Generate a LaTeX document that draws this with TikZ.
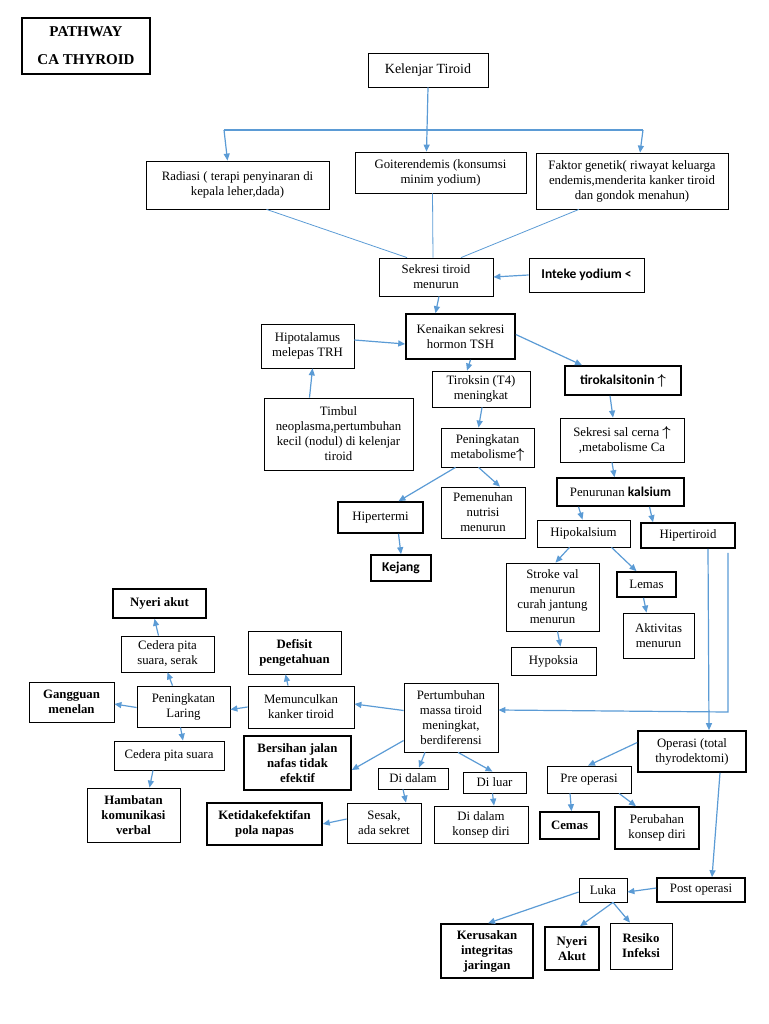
\documentclass[tikz,border=0pt]{standalone}
\usepackage{fontspec}
\setmainfont{Liberation Serif}
\newfontfamily\carlito{Carlito}
\usetikzlibrary{arrows.meta}
\definecolor{lineblue}{RGB}{91,155,213}
\newcommand\calb[1]{{\carlito\bfseries\fontsize{13.5}{15}\selectfont #1}}
\newcommand\uarr{{\fontsize{14.4}{15}\selectfont\boldmath$\uparrow$}}

\begin{document}
\begin{tikzpicture}[x=1pt,y=-1pt,
      box/.style={draw,line width=0.8pt,align=center,inner sep=1pt,font=\fontsize{12.8}{15}\selectfont},
      bbox/.style={box,line width=1.6pt},
      boldtext/.style={font=\fontsize{12.8}{15}\selectfont\bfseries},
      wh/.style 2 args={minimum width=#1pt,minimum height=#2pt},
      arr/.style={-{Triangle[length=7pt,width=6pt]},line width=1.2pt,draw=lineblue},
      link/.style={line width=0.8pt,draw=lineblue}]
      \useasboundingbox (0,0) rectangle (768,1024);
      \node[bbox,wh={128}{56},font=\fontsize{15}{28}\selectfont\bfseries] (title) at (86,46) {PATHWAY\\CA THYROID};
      \node[box,wh={120}{34},font=\fontsize{14}{16}\selectfont] (kel) at (428,70) {Kelenjar Tiroid};
      \node[box,wh={183}{48}] (rad) at (237.5,185) {Radiasi ( terapi penyinaran di\\kepala leher,dada)};
      \node[box,wh={171}{41}] (goi) at (440.5,172.5) {Goiterendemis (konsumsi\\minim yodium)};
      \node[box,wh={192}{56}] (fak) at (632,181) {Faktor genetik( riwayat keluarga\\endemis,menderita kanker tiroid\\dan gondok menahun)};
      \node[box,wh={114}{38}] (sek) at (436,277) {Sekresi tiroid\\menurun};
      \node[box,wh={115}{34}] (yod) at (586.5,275) {\calb{Inteke yodium <}};
      \node[bbox,wh={109}{45}] (tsh) at (460.5,336.5) {Kenaikan sekresi\\hormon TSH};
      \node[box,wh={93}{44}] (hip) at (307.5,346) {Hipotalamus\\melepas TRH};
      \node[box,wh={149}{72}] (tim) at (338.5,434) {Timbul\\neoplasma,pertumbuhan\\kecil (nodul) di kelenjar\\tiroid};
      \node[box,wh={98}{36}] (t4) at (481,389) {Tiroksin (T4)\\meningkat};
      \node[bbox,wh={116}{29}] (kal) at (623,380.5) {\calb{tirokalsitonin} \uarr};
      \node[box,wh={93}{39}] (met) at (487.5,447.5) {Peningkatan\\metabolisme\uarr};
      \node[box,wh={124}{44}] (sal) at (622,440) {Sekresi sal cerna \uarr\\,metabolisme Ca};
      \node[bbox,wh={127}{28}] (pen) at (620.5,492) {Penurunan \calb{kalsium}};
      \node[bbox,wh={85}{31}] (hpm) at (380.5,517.5) {Hipertermi};
      \node[box,wh={84}{51}] (nut) at (483,512.5) {Pemenuhan\\nutrisi\\menurun};
      \node[box,wh={93}{27}] (hka) at (583.5,533.5) {Hipokalsium};
      \node[bbox,wh={94}{25}] (hti) at (688,535.5) {Hipertiroid};
      \node[bbox,wh={60}{26}] (kej) at (401,568) {\calb{Kejang}};
      \node[box,wh={93}{68}] (str) at (552.5,597) {Stroke val\\menurun\\curah jantung\\menurun};
      \node[bbox,wh={59}{25}] (lem) at (646.5,584.5) {Lemas};
      \node[box,wh={71}{45}] (akt) at (658.5,635.5) {Aktivitas\\menurun};
      \node[box,wh={85}{28}] (hyp) at (553.5,661) {Hypoksia};
      \node[bbox,wh={93}{29},boldtext] (nye) at (159.5,603.5) {Nyeri akut};
      \node[box,wh={93}{36}] (ced1) at (167.5,654) {Cedera pita\\suara, serak};
      \node[box,wh={93}{43},boldtext] (def) at (294.5,652.5) {Defisit\\pengetahuan};
      \node[box,wh={85}{40},boldtext] (gan) at (71.5,702) {Gangguan\\menelan};
      \node[box,wh={93}{41}] (lar) at (183.5,706.5) {Peningkatan\\Laring};
      \node[box,wh={106}{42}] (mun) at (301,707) {Memunculkan\\kanker tiroid};
      \node[box,wh={94}{69}] (per) at (451,717.5) {Pertumbuhan\\massa tiroid\\meningkat,\\berdiferensi};
      \node[bbox,wh={107}{54},boldtext] (ber) at (297.5,763) {Bersihan jalan\\nafas tidak\\efektif};
      \node[box,wh={110}{29}] (ced2) at (169,755.5) {Cedera pita suara};
      \node[box,wh={93}{54},boldtext] (ham) at (133.5,815) {Hambatan\\komunikasi\\verbal};
      \node[bbox,wh={115}{42},boldtext] (ket) at (264.5,824) {Ketidakefektifan\\pola napas};
      \node[box,wh={70}{21}] (dda) at (413,778.5) {Di dalam};
      \node[box,wh={63}{21}] (dlu) at (494.5,782.5) {Di luar};
      \node[box,wh={74}{40}] (ses) at (384,823) {Sesak,\\ada sekret};
      \node[box,wh={94}{37}] (kdi) at (481,824.5) {Di dalam\\konsep diri};
      \node[bbox,wh={108}{41}] (ope) at (692,751.5) {Operasi (total\\thyrodektomi)};
      \node[box,wh={84}{27}] (pre) at (589,779.5) {Pre operasi};
      \node[bbox,wh={59}{27},boldtext] (cem) at (569.5,825.5) {Cemas};
      \node[bbox,wh={84}{42}] (pkd) at (657,828) {Perubahan\\konsep diri};
      \node[bbox,wh={88}{24}] (pos) at (701,890) {Post operasi};
      \node[box,wh={48}{24}] (luk) at (603,890) {Luka};
      \node[bbox,wh={92}{54},boldtext] (ker) at (487,951) {Kerusakan\\integritas\\jaringan};
      \node[bbox,wh={54}{43},boldtext] (nak) at (572,948.5) {Nyeri\\Akut};
      \node[box,wh={62}{46},boldtext] (res) at (641,946) {Resiko\\Infeksi};
      \coordinate (hl) at (224,130);
      \coordinate (hr) at (643,130);
      \coordinate (bend) at (728,712);
      \draw[arr] (kel.south) -- ([xshift=-14]goi.north);
      \draw[link,line width=1.2pt] (hl) -- (hr);
      \draw[arr] (hl) -- ([xshift=-10]rad.north);
      \draw[arr] (hr) -- ([xshift=8]fak.north);
      \draw[link] ([xshift=29]rad.south) -- ([xshift=-29]sek.north);
      \draw[link] ([xshift=-8]goi.south) -- ([xshift=-3]sek.north);
      \draw[link] ([xshift=-53]fak.south) -- ([xshift=25]sek.north);
      \draw[arr] (yod.west) -- (sek.east);
      \draw[arr] ([xshift=3]sek.south) -- ([xshift=-25]tsh.north);
      \draw[arr] ([yshift=6]hip.east) -- ([yshift=-7.5]tsh.west);
      \draw[arr] ([xshift=-29]tim.north) -- ([xshift=5]hip.south);
      \draw[arr] ([xshift=10]tsh.south) -- ([xshift=-14]t4.north);
      \draw[arr] ([yshift=2]tsh.east) -- ([xshift=-41]kal.north);
      \draw[arr] ([xshift=1]t4.south) -- ([xshift=-9]met.north);
      \draw[arr] ([xshift=-13]kal.south) -- ([xshift=-9]sal.north);
      \draw[arr] ([xshift=-10]sal.south) -- ([xshift=-6]pen.north);
      \draw[arr] ([xshift=-32]met.south) -- ([xshift=18]hpm.north);
      \draw[arr] ([xshift=-9]met.south) -- ([xshift=17]nut.north);
      \draw[arr] ([xshift=-42]pen.south) -- ([xshift=-1]hka.north);
      \draw[arr] ([xshift=29]pen.south) -- ([xshift=-35]hti.north);
      \draw[arr] ([xshift=18]hpm.south) -- (kej.north);
      \draw[arr] ([xshift=-14]hka.south) -- ([xshift=3]str.north);
      \draw[arr] ([xshift=28]hka.south) -- ([xshift=-10]lem.north);
      \draw[arr] ([xshift=-3]lem.south) -- ([xshift=-12]akt.north);
      \draw[arr] ([xshift=5]str.south) -- ([xshift=7]hyp.north);
      \draw[arr] ([xshift=20]hti.south) -- ([xshift=17]ope.north);
      \draw[arr] ([xshift=40,yshift=-4]hti.south) -- (bend) -- ([yshift=7.5]per.east);
      \draw[arr] ([yshift=9]ope.west) -- ([xshift=-1]pre.north);
      \draw[arr] ([xshift=-19]pre.south) -- ([xshift=2]cem.north);
      \draw[arr] ([xshift=30]pre.south) -- ([xshift=-21]pkd.north);
      \draw[arr] ([xshift=28]ope.south) -- ([xshift=11]pos.north);
      \draw[arr] ([yshift=2]pos.west) -- ([yshift=-2]luk.east);
      \draw[arr] ([yshift=-2]luk.west) -- ([xshift=1]ker.north);
      \draw[arr] ([xshift=10]luk.south) -- ([xshift=8]nak.north);
      \draw[arr] ([xshift=10]luk.south) -- ([xshift=-11]res.north);
      \draw[arr] ([yshift=7]per.west) -- ([yshift=3]mun.east);
      \draw[arr] ([yshift=-23]per.west) -- ([yshift=-7]ber.east);
      \draw[arr] ([xshift=-26]per.south) -- ([xshift=6]dda.north);
      \draw[arr] ([xshift=7]per.south) -- ([xshift=-2]dlu.north);
      \draw[arr] ([xshift=-10]dda.south) -- ([xshift=22]ses.north);
      \draw[arr] ([xshift=-2]dlu.south) -- ([xshift=13]kdi.north);
      \draw[arr] ([yshift=4]ses.west) -- (ket.east);
      \draw[arr] (mun.west) -- ([yshift=-3]lar.east);
      \draw[arr] ([xshift=-13]mun.north) -- ([xshift=-9]def.south);
      \draw[arr] ([xshift=-11]lar.north) -- (ced1.south);
      \draw[arr] ([yshift=-1]lar.west) -- ([yshift=-2]gan.east);
      \draw[arr] ([xshift=-3]lar.south) -- ([xshift=14]ced2.north);
      \draw[arr] ([xshift=-9]ced1.north) -- ([xshift=-5]nye.south);
      \draw[arr] ([xshift=-16]ced2.south) -- ([xshift=16]ham.north);
    \end{tikzpicture}
\end{document}
